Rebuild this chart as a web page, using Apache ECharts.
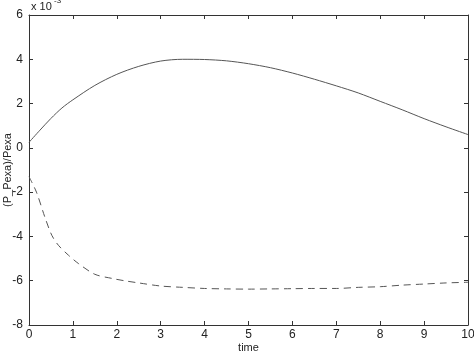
<!DOCTYPE html>
<html><head><meta charset="utf-8">
<script src="https://cdn.jsdelivr.net/npm/echarts@6/dist/echarts.min.js"></script>
<style>html,body{margin:0;padding:0;background:#fff}#c{width:474px;height:351px}</style>
</head><body><div id="c"></div>
<script>
// values in units of 1e-3
var solidT = [0,0.25,0.5,0.75,1,1.5,2,2.5,3,3.5,4,4.5,5,5.5,6,6.5,7,7.5,8,8.5,9,9.5,10];
var solidV = [0.25,0.8,1.33,1.8,2.17,2.82,3.32,3.68,3.92,4.0,3.99,3.93,3.8,3.62,3.38,3.1,2.8,2.48,2.1,1.72,1.32,0.95,0.6];
var dashT = [0,0.17,0.36,0.52,0.67,0.9,1.13,1.5,1.9,2.2,2.5,3,3.5,4,4.5,5,5.5,6,6.5,7,7.5,8,8.5,9,9.5,10];
var dashV = [-1.3,-2.0,-3.12,-3.95,-4.4,-4.85,-5.23,-5.71,-5.9,-6.01,-6.1,-6.24,-6.3,-6.35,-6.37,-6.38,-6.37,-6.36,-6.35,-6.35,-6.3,-6.27,-6.2,-6.15,-6.1,-6.07];
var xTicks = [0,1,2,3,4,5,6,7,8,9,10];
var yTicks = [-8,-6,-4,-2,0,2,4,6];

function pairs(t, v){ return t.map(function(x,i){ return [x, v[i]]; }); }
var font = 'Liberation Sans, Arial, sans-serif';
var axCol = '#333';
var txt = '#222';
var chart = echarts.init(document.getElementById('c'));
var base = {
  min: xTicks[0], max: xTicks[xTicks.length-1], interval: 1, type: 'value',
  axisLine: {show: true, onZero: false, lineStyle: {color: axCol, width: 1}},
  axisTick: {show: true, inside: true, length: 4, lineStyle: {color: axCol}},
  splitLine: {show: false}
};
var yb = {min: yTicks[0], max: yTicks[yTicks.length-1], interval: 2};
chart.setOption({
  animation: false,
  grid: {left: 29, right: 6, top: 15, bottom: 26, containLabel: false, outerBoundsMode: 'none'},
  xAxis: [
    Object.assign({}, base, {position: 'bottom', name: 'time', nameLocation: 'middle', nameGap: 17,
      nameMoveOverlap: false,
      nameTextStyle: {fontFamily: font, fontSize: 11, color: txt},
      axisLabel: {show: true, margin: 4, fontFamily: font, fontSize: 12, color: txt}}),
    Object.assign({}, base, {position: 'top', axisLabel: {show: false}})
  ],
  yAxis: [
    Object.assign({}, base, yb, {position: 'left',
      name: '(P_Pexa)/Pexa', nameLocation: 'middle', nameGap: 16, nameRotate: 90,
      nameMoveOverlap: false,
      nameTextStyle: {fontFamily: font, fontSize: 11, color: txt},
      axisLabel: {show: true, margin: 6, fontFamily: font, fontSize: 12, color: txt}}),
    Object.assign({}, base, yb, {position: 'right', axisLabel: {show: false}})
  ],
  graphic: [
    {type: 'text', left: 31, top: 1, style: {text: 'x 10', fontFamily: font, fontSize: 11, fill: txt}},
    {type: 'text', left: 54, top: -3, style: {text: '-3', fontFamily: font, fontSize: 8, fill: txt}}
  ],
  series: [
    {type: 'line', data: pairs(solidT, solidV), smooth: 0.3, showSymbol: false,
      lineStyle: {color: '#555', width: 1}},
    {type: 'line', data: pairs(dashT, dashV), smooth: 0.3, showSymbol: false,
      lineStyle: {color: '#555', width: 1, type: [7, 5]}}
  ]
});
</script></body></html>
